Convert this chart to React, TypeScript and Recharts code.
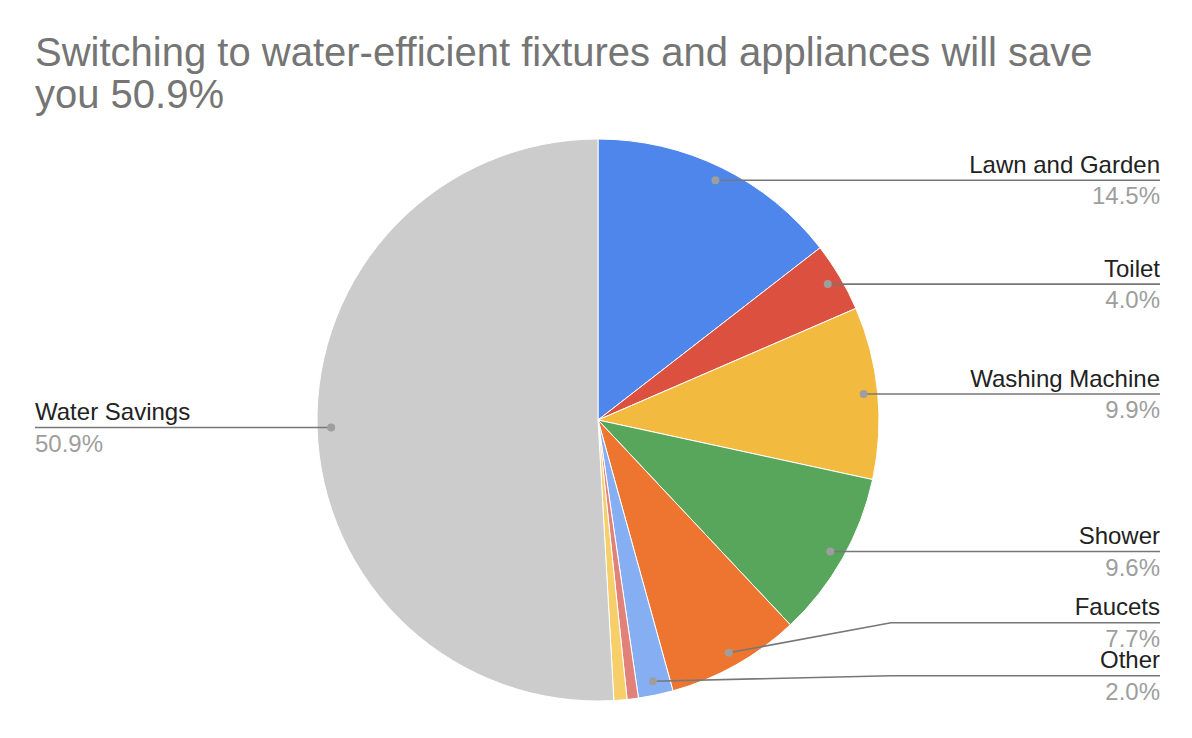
import { PieChart, Pie, Cell } from 'recharts';

// slices, clockwise from 12 o'clock
const categories = [
  'Lawn and Garden',
  'Toilet',
  'Washing Machine',
  'Shower',
  'Faucets',
  'Other',
  'Leaks',
  'Dishwasher',
  'Water Savings',
];
const shares = [14.5, 4.0, 9.9, 9.6, 7.7, 2.0, 0.65, 0.75, 50.9];
const colors = ['#4F86EC', '#DC5040', '#F2BB40', '#58A55C', '#ED7530', '#86AEF3', '#E2817A', '#F6CE6A', '#CCCCCC'];

const TITLE_LINES = ['Switching to water-efficient fixtures and appliances will save', 'you 50.9%'];

const W = 1192;
const H = 738;
const CX = 598;
const CY = 420;
const R = 281;
const RAD = Math.PI / 180;
const DOT_R = R * 0.95;
const RIGHT_X = 1160;
const LEFT_X = 35;
const GAP = 53;
const FONT = '"Liberation Sans", Arial, sans-serif';

const data = categories.map((name, i) => ({ name, value: shares[i] }));

// work out where each leader line ends up, pushing crowded labels apart
function layoutLabels() {
  const total = shares.reduce((a, b) => a + b, 0);
  let cum = 0;
  const items = shares.map((v, i) => {
    const mid = 90 - ((cum + v / 2) / total) * 360;
    cum += v;
    const y = CY + DOT_R * Math.sin(-mid * RAD);
    return { i, v, mid, y, right: Math.cos(mid * RAD) >= 0 };
  });
  const shown = items.filter((d) => d.v / total >= 0.015);
  const ys: Record<number, number> = {};
  for (const right of [true, false]) {
    const group = shown.filter((d) => d.right === right).sort((a, b) => a.y - b.y);
    let next = CY + R * 0.91 + GAP;
    for (let k = group.length - 1; k >= 0; k--) {
      const y = Math.min(group[k].y, next - GAP);
      ys[group[k].i] = y;
      next = y;
    }
  }
  return ys;
}

const labelY = layoutLabels();

function renderLabel(props: any) {
  const { cx, cy, midAngle, index, value } = props;
  const ly = labelY[index];
  if (ly == null) return null;
  const px = cx + DOT_R * Math.cos(-midAngle * RAD);
  const py = cy + DOT_R * Math.sin(-midAngle * RAD);
  const right = Math.cos(midAngle * RAD) >= 0;
  const endX = right ? RIGHT_X : LEFT_X;
  const elbowX = right ? cx + R + 12 : cx - R - 12;
  const bent = Math.abs(ly - py) > 1;
  const lineY = bent ? ly : py;
  const pts = bent ? `${px},${py} ${elbowX},${ly} ${endX},${ly}` : `${px},${py} ${endX},${py}`;
  const anchor = right ? 'end' : 'start';
  return (
    <g key={`lbl-${index}`}>
      <polyline points={pts} fill="none" stroke="#777777" strokeWidth={1.6} />
      <circle cx={px} cy={py} r={4} fill="#9E9E9E" />
      <text x={endX} y={lineY - 7.5} textAnchor={anchor} fontFamily={FONT} fontSize={24} fill="#222222">
        {categories[index]}
      </text>
      <text x={endX} y={lineY + 24} textAnchor={anchor} fontFamily={FONT} fontSize={24} fill="#9E9E9E">
        {`${Number(value).toFixed(1)}%`}
      </text>
    </g>
  );
}

export default function App() {
  return (
    <div style={{ position: 'absolute', left: 0, top: 0, width: W, height: H, background: '#ffffff' }}>
      <div
        style={{
          position: 'absolute',
          left: 35,
          top: 31,
          fontFamily: FONT,
          fontSize: 40,
          lineHeight: '42px',
          color: '#757575',
          whiteSpace: 'nowrap',
        }}
      >
        {TITLE_LINES.map((t) => (
          <div key={t}>{t}</div>
        ))}
      </div>
      <PieChart
        width={W}
        height={H}
        margin={{ top: 0, right: 0, bottom: 0, left: 0 }}
        style={{ position: 'absolute', left: 0, top: 0 }}
      >
        <Pie
          data={data}
          dataKey="value"
          nameKey="name"
          cx={CX}
          cy={CY}
          outerRadius={R}
          startAngle={90}
          endAngle={-270}
          stroke="#ffffff"
          strokeWidth={1}
          label={renderLabel}
          labelLine={false}
          isAnimationActive={false}
        >
          {data.map((d, i) => (
            <Cell key={d.name} fill={colors[i]} />
          ))}
        </Pie>
      </PieChart>
    </div>
  );
}
